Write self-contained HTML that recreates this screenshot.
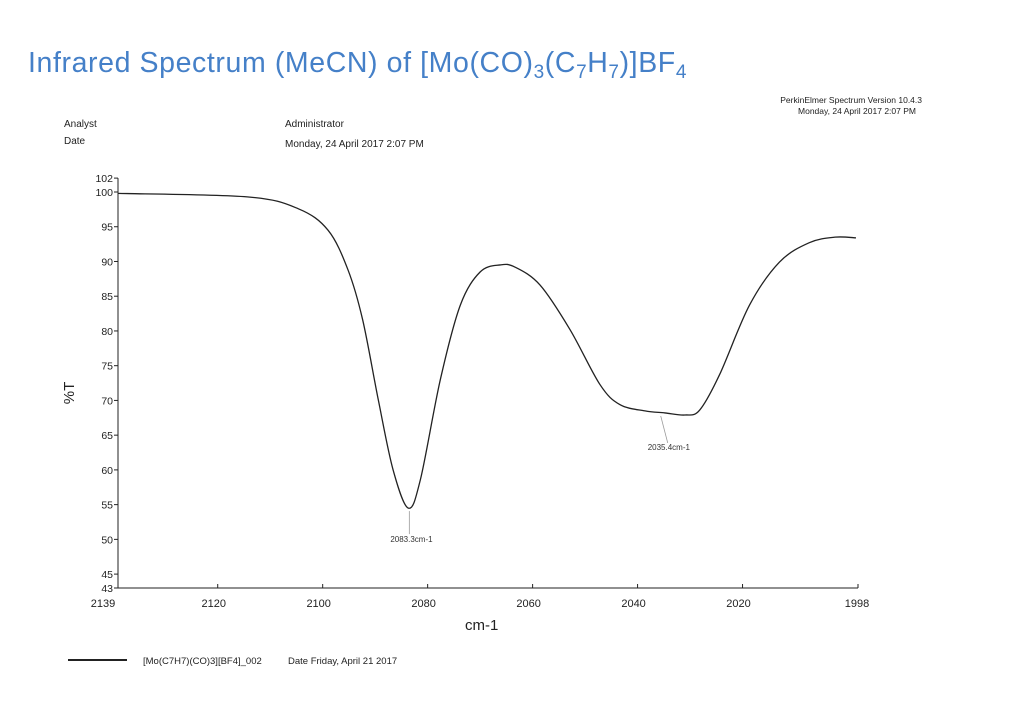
<!DOCTYPE html>
<html><head><meta charset="utf-8"><style>
body{margin:0;background:#fff;width:1024px;height:714px;overflow:hidden;font-family:"Liberation Sans",sans-serif}
</style></head><body>
<svg width="1024" height="714" xmlns="http://www.w3.org/2000/svg">
<text x="28" y="72" font-size="28.5" letter-spacing="0.6" fill="#4580c8" font-family="Liberation Sans, sans-serif">Infrared Spectrum (MeCN) of [Mo(CO)<tspan font-size="19" dy="6">3</tspan><tspan dy="-6">(C</tspan><tspan font-size="19" dy="6">7</tspan><tspan dy="-6">H</tspan><tspan font-size="19" dy="6">7</tspan><tspan dy="-6">)]BF</tspan><tspan font-size="19" dy="6">4</tspan></text>
<g font-size="10" fill="#222">
<text x="64" y="127">Analyst</text>
<text x="64" y="144">Date</text>
<text x="285" y="127">Administrator</text>
<text x="285" y="147">Monday, 24 April 2017 2:07 PM</text>
<text x="922" y="103" font-size="8.5" text-anchor="end">PerkinElmer Spectrum Version 10.4.3</text>
<text x="916" y="114" font-size="8.5" text-anchor="end">Monday, 24 April 2017 2:07 PM</text>
</g>
<g id="axes"></g>
<path id="curve" fill="none" stroke="#222" stroke-width="1.3"/>
<text x="465" y="630" font-size="15" fill="#222">cm-1</text>
<text transform="translate(74,393) rotate(-90)" font-size="15" fill="#222" text-anchor="middle">%T</text>
<g id="ann"></g>
<line x1="68" y1="660" x2="127" y2="660" stroke="#222" stroke-width="2"/>
<text x="143" y="664" font-size="9.5" fill="#222">[Mo(C7H7)(CO)3][BF4]_002</text>
<text x="288" y="664" font-size="9.5" fill="#222">Date Friday, April 21 2017</text>
</svg>
<script>
const wavenumbers=[2139,2114,2104.3,2098.6,2094.8,2092,2089,2086.2,2083.3,2081,2077.2,2073.4,2069.6,2065.8,2063,2058.2,2052.5,2046.8,2043,2038.2,2034.4,2030.6,2027.8,2024,2018.3,2012.6,2006.9,2002,1998];
const transmittance=[99.8,99.3,97.6,94.5,88.8,81.6,70,60,54.5,58.6,73,83.7,88.5,89.5,89.2,86.6,80.2,72.3,69.4,68.5,68.2,67.9,68.6,73.7,83.7,89.9,92.7,93.5,93.4];
const yTicks=[102,100,95,90,85,80,75,70,65,60,55,50,45,43];
const xTicks=[2139,2120,2100,2080,2060,2040,2020,1998];
const peakLabels=["2083.3cm-1","2035.4cm-1"];
const peakPositions=[2083.3,2035.4];
const peakValues=[54.5,68.2];
const NS="http://www.w3.org/2000/svg";
const x=w=>118+(2139-w)*(858-118)/141;
const y=t=>192+(100-t)*(588-192)/57;
const ax=document.getElementById('axes');
function mk(tag,at,parent){const e=document.createElementNS(NS,tag);for(const k in at)e.setAttribute(k,at[k]);parent.appendChild(e);return e;}
let l=mk('line',{x1:118,y1:y(102),x2:118,y2:y(43),stroke:'#222','stroke-width':1},ax);


l=mk('line',{x1:118,y1:y(43),x2:858,y2:y(43),stroke:'#222','stroke-width':1},ax);


yTicks.forEach(t=>{
 mk('line',{x1:114,y1:y(t),x2:118,y2:y(t),stroke:'#222'},ax);
 const tx=mk('text',{x:113,y:y(t)+4,'font-size':10.5,'text-anchor':'end',fill:'#222'},ax);
 tx.textContent=t;
 
 
});
xTicks.forEach(t=>{
 mk('line',{x1:x(t),y1:y(43),x2:x(t),y2:y(43)-4,stroke:'#222'},ax);
 const tx=mk('text',{x:x(t)-(t===2139?15:(t===1998?1:4)),y:607,'font-size':11,'text-anchor':'middle',fill:'#222'},ax);
 tx.textContent=t;
 
 
});
const P=wavenumbers.map((w,i)=>[x(w)-2,y(transmittance[i])]);
P[0][0]=118;
let d='M'+P[0][0]+','+P[0][1];
for(let i=0;i<P.length-1;i++){
 const p0=P[i-1]||P[i],p1=P[i],p2=P[i+1],p3=P[i+2]||P[i+1];
 const c1=[p1[0]+(p2[0]-p0[0])/6,p1[1]+(p2[1]-p0[1])/6],c2=[p2[0]-(p3[0]-p1[0])/6,p2[1]-(p3[1]-p1[1])/6];
 d+=` C${c1[0]},${c1[1]} ${c2[0]},${c2[1]} ${p2[0]},${p2[1]}`;
}
document.getElementById('curve').setAttribute('d',d);
const an=document.getElementById('ann');
const offs=[[1,26,-18,34],[8,30,-12,37]];
peakPositions.forEach((w,i)=>{
 const px=x(w)-2,py=y(peakValues[i]);const o=offs[i];
 mk('line',{x1:px+1,y1:py+3,x2:px+o[0],y2:py+o[1],stroke:'#999','stroke-width':0.8},an);
 const tx=mk('text',{x:px+o[2],y:py+o[3],'font-size':8,fill:'#333'},an);
 tx.textContent=peakLabels[i];
 
 
});
</script>
</body></html>
